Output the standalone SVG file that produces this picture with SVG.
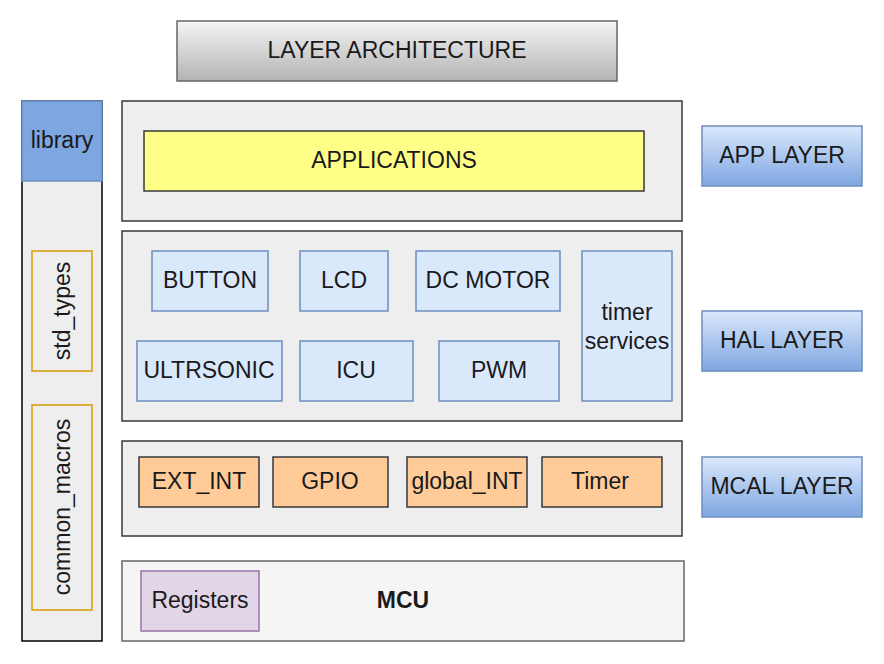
<svg xmlns="http://www.w3.org/2000/svg" width="884" height="664" viewBox="0 0 884 664">
<style>
text{font-family:"Liberation Sans",Arial,sans-serif;font-size:23px;fill:#1a1a1a;text-anchor:middle;dominant-baseline:central}
.panel{fill:#eeeeee;stroke:#36393d;stroke-width:1.5}
.hal{fill:#dae8fc;stroke:#6c8ebf;stroke-width:1.5}
.mcal{fill:#ffcc99;stroke:#36393d;stroke-width:1.5}
.lay{fill:url(#gb);stroke:#6c8ebf;stroke-width:1.5}
.lib{fill:none;stroke:#d79b00;stroke-width:1.5}
</style>
<defs>
<linearGradient id="gb" x1="0" y1="0" x2="0" y2="1"><stop offset="0" stop-color="#dae8fc"/><stop offset="1" stop-color="#7ea6e0"/></linearGradient>
<linearGradient id="gg" x1="0" y1="0" x2="0" y2="1"><stop offset="0" stop-color="#f5f5f5"/><stop offset="1" stop-color="#b3b3b3"/></linearGradient>
</defs>
<g id="title"><rect x="177" y="21" width="440" height="60" fill="url(#gg)" stroke="#666" stroke-width="1.5"/><text x="397" y="50">LAYER ARCHITECTURE</text></g>
<g id="library">
<rect x="22" y="101" width="80" height="540" fill="#eeeeee" stroke="#000" stroke-width="1.5"/>
<rect x="22" y="101" width="80" height="80" fill="#7ea6e0" stroke="#6c8ebf" stroke-width="1.5"/>
<text x="62" y="140">library</text>
</g>
<g id="std_types"><rect class="lib" x="32" y="251" width="60" height="120"/><text transform="translate(62,311) rotate(-90)">std_types</text></g>
<g id="common_macros"><rect class="lib" x="32" y="405" width="60" height="205"/><text transform="translate(62,507) rotate(-90)">common_macros</text></g>
<g id="app"><rect class="panel" x="122" y="101" width="560" height="120"/><rect x="144" y="131" width="500" height="60" fill="#ffff88" stroke="#36393d" stroke-width="1.5"/><text x="394" y="160">APPLICATIONS</text></g>
<g id="hal">
<rect class="panel" x="122" y="231" width="560" height="190"/>
<rect class="hal" x="152" y="251" width="116" height="60"/><text x="210" y="280">BUTTON</text>
<rect class="hal" x="300" y="251" width="88" height="60"/><text x="344" y="280">LCD</text>
<rect class="hal" x="416" y="251" width="144" height="60"/><text x="488" y="280">DC MOTOR</text>
<rect class="hal" x="582" y="251" width="90" height="150"/><text x="627" y="312">timer</text><text x="627" y="341">services</text>
<rect class="hal" x="137" y="341" width="145" height="60"/><text x="209" y="370">ULTRSONIC</text>
<rect class="hal" x="300" y="341" width="113" height="60"/><text x="356" y="370">ICU</text>
<rect class="hal" x="439" y="341" width="120" height="60"/><text x="499" y="370">PWM</text>
</g>
<g id="mcal">
<rect class="panel" x="122" y="441" width="560" height="95"/>
<rect class="mcal" x="139" y="457" width="120" height="50"/><text x="199" y="481">EXT_INT</text>
<rect class="mcal" x="273" y="457" width="115" height="50"/><text x="330" y="481">GPIO</text>
<rect class="mcal" x="407" y="457" width="120" height="50"/><text x="467" y="481">global_INT</text>
<rect class="mcal" x="542" y="457" width="120" height="50"/><text x="600" y="481">Timer</text>
</g>
<g id="mcu">
<rect x="122" y="561" width="562" height="80" fill="#f5f5f5" stroke="#666" stroke-width="1.5"/>
<rect x="141" y="571" width="118" height="60" fill="#e1d5e7" stroke="#9673a6" stroke-width="1.5"/><text x="200" y="600">Registers</text>
<text x="403" y="600" style="font-weight:bold">MCU</text>
</g>
<g id="applayer"><rect class="lay" x="702" y="126" width="160" height="60"/><text x="782" y="155">APP LAYER</text></g>
<g id="hallayer"><rect class="lay" x="702" y="311" width="160" height="60"/><text x="782" y="340">HAL LAYER</text></g>
<g id="mcallayer"><rect class="lay" x="702" y="457" width="160" height="60"/><text x="782" y="486">MCAL LAYER</text></g>
<g id="connectors"/>
</svg>
